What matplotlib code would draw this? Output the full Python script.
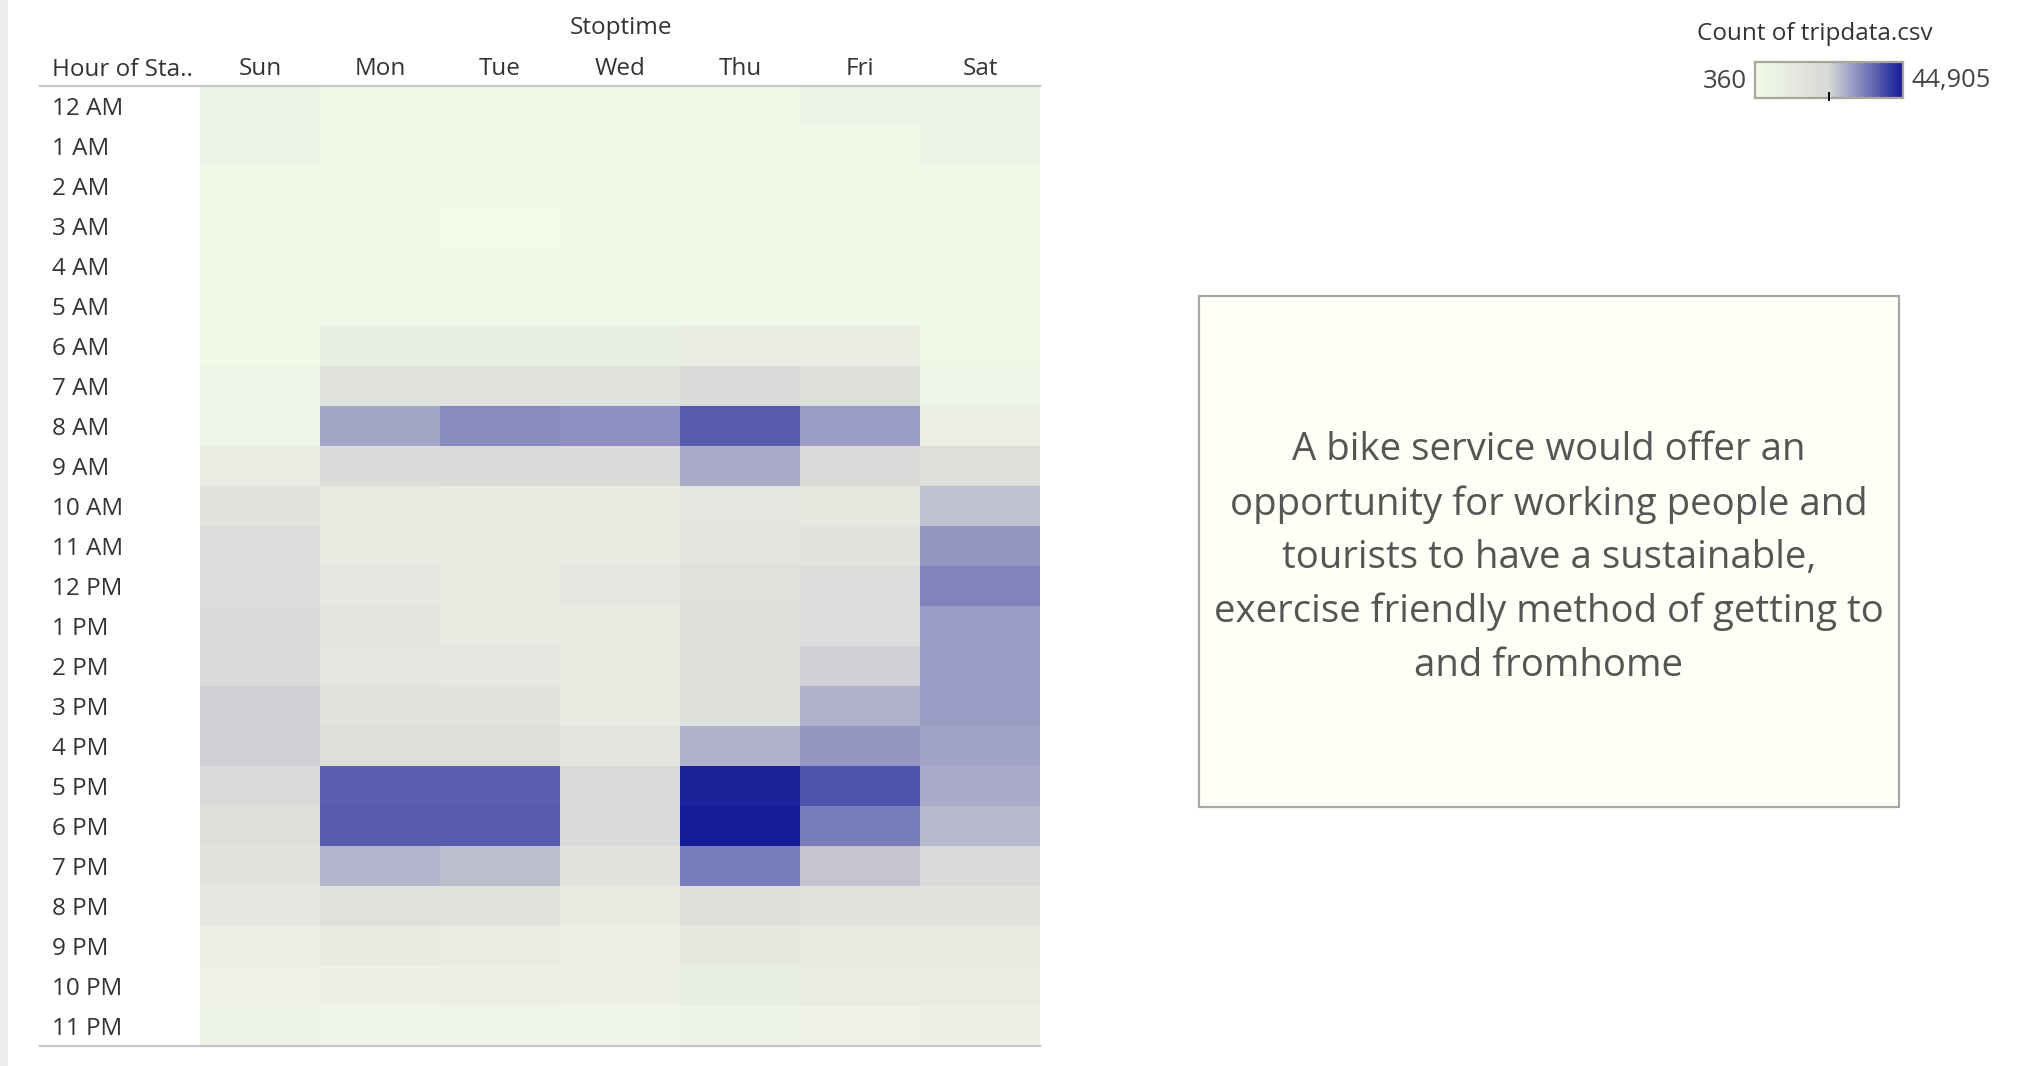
import numpy as np
import matplotlib
matplotlib.use("Agg")
import matplotlib.pyplot as plt
from matplotlib.colors import LinearSegmentedColormap, Normalize
from matplotlib.lines import Line2D
from matplotlib.patches import Rectangle

hours = ["12 AM","1 AM","2 AM","3 AM","4 AM","5 AM","6 AM","7 AM","8 AM","9 AM","10 AM","11 AM",
         "12 PM","1 PM","2 PM","3 PM","4 PM","5 PM","6 PM","7 PM","8 PM","9 PM","10 PM","11 PM"]
days = ["Sun","Mon","Tue","Wed","Thu","Fri","Sat"]

sun = [4810,4370,2140,1700,1250,1250,1700,3030,3920,9270,15060,19070,19070,20850,20850,23520,23520,20850,18180,15060,11940,7490,5700,4810]
mon = [2810,2140,1470,1250,1250,2590,8380,16840,28420,19960,11050,10160,11940,14610,12830,15060,18180,36890,37330,26640,16400,10160,6150,3920]
tue = [2810,2140,1470,805,1250,2590,8380,16840,31540,20850,10160,10160,10160,10160,11940,15060,18180,36890,37330,25750,15510,9270,7040,3920]
wed = [2810,2140,1700,1250,1250,2590,8380,16840,31100,20850,10160,10160,11940,10160,10160,10160,13720,20850,21300,15950,10160,7490,6150,3920]
thu = [2810,2140,1700,1250,1250,2590,9270,19960,37330,27980,12830,14610,16400,17290,17290,17290,27090,44010,44905,33320,18180,11500,8380,4370]
fri = [4370,2140,1700,1250,1250,2590,9270,17290,29760,21740,12390,15060,19070,19070,23520,27090,30210,38220,33320,24860,15510,10160,9270,5700]
sat = [4810,4370,2590,2140,1700,1250,2590,3920,7040,18180,25310,30210,32430,29760,29760,29760,28870,27980,26200,21300,15060,10160,9270,6600]

vmin, vmax = 360, 44905
note = ("A bike service would offer an\nopportunity for working people and\n"
        "tourists to have a sustainable,\nexercise friendly method of getting to\nand fromhome")

W, H = 2030, 1066
plt.rcParams["font.family"] = ["Open Sans", "DejaVu Sans"]
fig = plt.figure(figsize=(W/100, H/100), dpi=100, facecolor="white")

def rect(x0, y0, x1, y1):
    return [x0/W, 1-y1/H, (x1-x0)/W, (y1-y0)/H]
def fx(x): return x/W
def fy(y): return 1-y/H

cmap = LinearSegmentedColormap.from_list("d", [(0, "#f4fbe9"), (0.5, "#d8d8d8"), (1, "#141c99")])
norm = Normalize(vmin, vmax)

# left strip
fig.add_artist(Rectangle((0, 0), 8/W, 1, transform=fig.transFigure, fc="#eeeeee", ec="none"))

ax = fig.add_axes(rect(200, 86, 1040, 1046))
data = np.array([sun, mon, tue, wed, thu, fri, sat]).T
ax.imshow(data, cmap=cmap, norm=norm, aspect="auto", interpolation="nearest")
for s in ax.spines.values():
    s.set_visible(False)
ax.xaxis.tick_top()
ax.set_xticks(range(len(days)), days)
ax.set_yticks(range(len(hours)), [""] * len(hours))
ax.tick_params(axis="both", length=0)
ax.tick_params(axis="x", pad=3.5, labelsize=17.5, labelcolor="#333333")
for i, h in enumerate(hours):
    ax.text(-148/840, i + 0.065, h, transform=ax.get_yaxis_transform(), fontsize=17.5, color="#333333",
            ha="left", va="center", clip_on=False)

for y in (86, 1046):
    fig.add_artist(Line2D([fx(40), fx(1040)], [fy(y), fy(y)], color="#c8c8c8", lw=1.6))
fig.text(fx(52), fy(69.5), "Hour of Sta..", fontsize=17.5, color="#333333", ha="left", va="center")
fig.text(fx(621), fy(28.5), "Stoptime", fontsize=17.5, color="#333333", ha="center", va="center")

# legend
fig.text(fx(1815), fy(34), "Count of tripdata.csv", fontsize=17.5, color="#333333", ha="center", va="center")
lax = fig.add_axes(rect(1755, 62, 1903, 98))
lax.imshow(np.linspace(vmin, vmax, 256)[None, :], cmap=cmap, norm=norm, aspect="auto",
           extent=[vmin, vmax, 0, 1])
lax.set_xticks([]); lax.set_yticks([])
for s in lax.spines.values():
    s.set_color("#aaa59a"); s.set_linewidth(1.6)
fig.add_artist(Line2D([fx(1829), fx(1829)], [fy(93), fy(100)], color="black", lw=1.4))
fig.text(fx(1747), fy(81), "360", fontsize=18.5, color="#444444", ha="right", va="center")
fig.text(fx(1911), fy(81), "44,905", fontsize=18.4, color="#444444", ha="left", va="center")

# note box
fig.add_artist(Rectangle((fx(1198.5), fy(806.5)), 700.5/W, 510.5/H, transform=fig.transFigure,
                         fc="#fffff7", ec="#a8a8a8", lw=1.6))
fig.text(fx(1549), fy(558), note, fontsize=27.6, color="#555555", ha="center", va="center", linespacing=1.53)

fig.savefig("out.png", dpi=100, facecolor="white")
